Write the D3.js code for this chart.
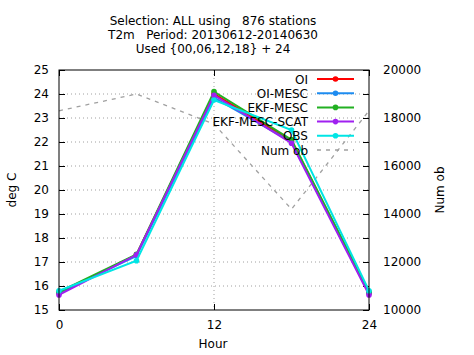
<!DOCTYPE html>
<html><head><meta charset="utf-8">
<script src="https://cdn.jsdelivr.net/npm/d3@7"></script>
<style>
body{margin:0;background:#fff;}
svg{display:block;font-family:"DejaVu Sans",sans-serif;}
</style></head>
<body><svg id="c" width="474" height="355"></svg>
<script>
const hours = [0, 6, 12, 18, 24];
const seriesNames = ["OI", "OI-MESC", "EKF-MESC", "EKF-MESC-SCAT", "OBS"];
const seriesColors = ["#ff0000", "#1e8cf0", "#22b022", "#a020f0", "#00e5e5"];
const oiVals = [15.70, 17.30, 24.00, 22.05, 15.70];
const oiMescVals = [15.72, 17.25, 23.85, 22.00, 15.72];
const ekfMescVals = [15.75, 17.32, 24.10, 22.10, 15.75];
const ekfScatVals = [15.63, 17.30, 23.95, 21.95, 15.63];
const obsVals = [15.80, 17.05, 23.75, 22.50, 15.80];
const numObVals = [18300, 19000, 17750, 14200, 18300];
const yTicks = [15, 16, 17, 18, 19, 20, 21, 22, 23, 24, 25];
const y2Ticks = [10000, 12000, 14000, 16000, 18000, 20000];
const xTicks = [0, 12, 24];
const titleLines = ["Selection: ALL using   876 stations", "T2m   Period: 20130612-20140630", "Used {00,06,12,18} + 24"];

const allSeries = [oiVals, oiMescVals, ekfMescVals, ekfScatVals, obsVals];
const svg = d3.select("#c");
const L = 59, R = 369, T = 70, B = 310;
const x = d3.scaleLinear().domain([0, 24]).range([L, R]);
const y = d3.scaleLinear().domain([15, 25]).range([B, T]);
const y2 = d3.scaleLinear().domain([10000, 20000]).range([B, T]);

// grid
const g = svg.append("g");
g.selectAll("line.hg").data(yTicks.slice(1, -1)).enter().append("line")
  .attr("x1", L).attr("x2", R).attr("y1", d => y(d)).attr("y2", d => y(d))
  .attr("stroke", "#a0a0a0").attr("stroke-width", 1).attr("stroke-dasharray", "1,3");
g.selectAll("line.vg").data(xTicks.slice(1, -1)).enter().append("line")
  .attr("x1", d => x(d)).attr("x2", d => x(d)).attr("y1", T).attr("y2", B)
  .attr("stroke", "#a0a0a0").attr("stroke-width", 1).attr("stroke-dasharray", "1,3");

// axes
const tl = 6;
const axL = d3.axisLeft(y).tickValues(yTicks).tickSize(-tl).tickPadding(10).tickFormat(d3.format("d"));
const axR = d3.axisRight(y).tickValues(yTicks).tickSize(-tl).tickFormat("");
const axR2 = d3.axisRight(y2).tickValues(y2Ticks).tickSize(0).tickPadding(14).tickFormat(d3.format("d"));
const axB = d3.axisBottom(x).tickValues(xTicks).tickSize(-tl).tickPadding(10).tickFormat(d3.format("d"));
const axT = d3.axisTop(x).tickValues(xTicks).tickSize(-tl).tickFormat("");
function style(sel){
  sel.select(".domain").remove();
  sel.selectAll("text").attr("font-size", 12).attr("fill", "#000").attr("font-family", "DejaVu Sans");
  sel.selectAll("line").attr("stroke", "#000");
}
svg.append("g").attr("transform", `translate(${L},0)`).call(axL).call(style);
svg.append("g").attr("transform", `translate(${R},0)`).call(axR).call(style);
svg.append("g").attr("transform", `translate(${R},0)`).call(axR2).call(style);
svg.append("g").attr("transform", `translate(0,${B})`).call(axB).call(style);
svg.append("g").attr("transform", `translate(0,${T})`).call(axT).call(style);

// num ob
svg.append("path").datum(numObVals)
  .attr("d", d3.line().x((d, i) => x(hours[i])).y(d => y2(d)))
  .attr("fill", "none").attr("stroke", "#a0a0a0").attr("stroke-width", 1.3).attr("stroke-dasharray", "4,5");

// series
allSeries.forEach((vals, k) => {
  svg.append("path").datum(vals)
    .attr("d", d3.line().x((d, i) => x(hours[i])).y(d => y(d)))
    .attr("fill", "none").attr("stroke", seriesColors[k]).attr("stroke-width", 2);
  svg.selectAll(null).data(vals).enter().append("circle")
    .attr("cx", (d, i) => x(hours[i])).attr("cy", d => y(d)).attr("r", 2.8)
    .attr("fill", seriesColors[k]);
});

// border
svg.append("rect").attr("x", L).attr("y", T).attr("width", R - L).attr("height", B - T)
  .attr("fill", "none").attr("stroke", "#000").attr("stroke-width", 1);

// legend
const legNames = seriesNames.concat(["Num ob"]);
legNames.forEach((n, k) => {
  const ly = 79 + k * 14.2;
  svg.append("text").attr("x", 308).attr("y", ly + 4.5).attr("text-anchor", "end")
    .attr("font-size", 12).text(n);
  if (k < seriesNames.length) {
    svg.append("line").attr("x1", 317).attr("x2", 354).attr("y1", ly).attr("y2", ly)
      .attr("stroke", seriesColors[k]).attr("stroke-width", 2);
    svg.append("circle").attr("cx", 335.5).attr("cy", ly).attr("r", 2.8).attr("fill", seriesColors[k]);
  } else {
    svg.append("line").attr("x1", 317).attr("x2", 354).attr("y1", ly).attr("y2", ly)
      .attr("stroke", "#a0a0a0").attr("stroke-width", 1.3).attr("stroke-dasharray", "4,5");
  }
});

// titles
titleLines.forEach((t, i) => {
  svg.append("text").attr("x", 213).attr("y", 24.5 + i * 14.2).attr("text-anchor", "middle")
    .attr("font-size", 12).style("white-space", "pre").text(t);
});
svg.append("text").attr("x", 213).attr("y", 348).attr("text-anchor", "middle").attr("font-size", 12).text("Hour");
svg.append("text").attr("transform", "translate(16,190) rotate(-90)").attr("text-anchor", "middle").attr("font-size", 12).text("deg C");
svg.append("text").attr("transform", "translate(444,190) rotate(-90)").attr("text-anchor", "middle").attr("font-size", 12).text("Num ob");
</script></body></html>
